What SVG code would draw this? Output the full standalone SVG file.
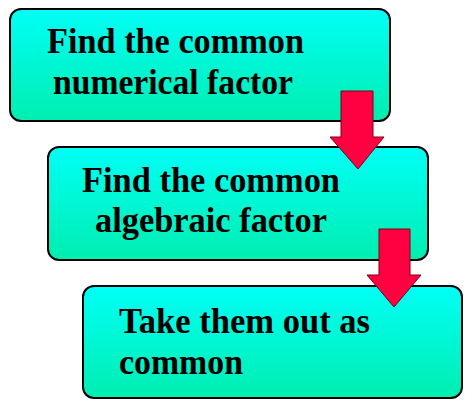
<svg xmlns="http://www.w3.org/2000/svg" width="474" height="407" viewBox="0 0 474 407">
<defs>
<linearGradient id="fill" x1="0" y1="0" x2="0" y2="1">
<stop offset="0" stop-color="#00fff6"/>
<stop offset="1" stop-color="#00eeb0"/>
</linearGradient>
</defs>
<style>
.box{fill:url(#fill);stroke:#000;stroke-width:2}
.t{font-family:"Liberation Serif","Times New Roman",serif;font-weight:bold;font-size:36px;fill:#000}
.arrow{fill:#ff0040;stroke:#7a0010;stroke-width:1}
</style>
<rect width="474" height="407" fill="#fff"/>
<g id="node1">
<rect class="box" x="10" y="9" width="380" height="112" rx="11"/>
<text class="t" x="47" y="53" textLength="257" lengthAdjust="spacingAndGlyphs">Find the common</text>
<text class="t" x="53" y="94" textLength="240" lengthAdjust="spacingAndGlyphs">numerical factor</text>
</g>
<g id="node2">
<rect class="box" x="48" y="147" width="380" height="113" rx="11"/>
<text class="t" x="82" y="192" textLength="258" lengthAdjust="spacingAndGlyphs">Find the common</text>
<text class="t" x="95" y="232" textLength="232" lengthAdjust="spacingAndGlyphs">algebraic factor</text>
</g>
<g id="node3">
<rect class="box" x="83" y="286" width="379" height="112" rx="11"/>
<text class="t" x="119" y="333" textLength="251" lengthAdjust="spacingAndGlyphs">Take them out as</text>
<text class="t" x="119" y="374" textLength="124" lengthAdjust="spacingAndGlyphs">common</text>
</g>
<g id="connectors">
<polygon class="arrow" points="341,91 373,91 373,137 384,137 358,169 330,137 341,137"/>
<polygon class="arrow" points="379,229 410,229 410,275 421,275 394,307 367,275 379,275"/>
</g>
</svg>
